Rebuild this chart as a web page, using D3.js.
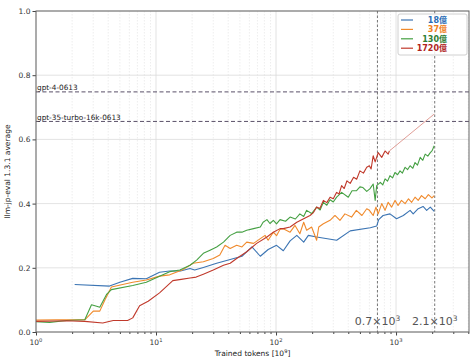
<!DOCTYPE html>
<html>
<head>
<meta charset="utf-8">
<script src="https://cdn.jsdelivr.net/npm/d3@7"></script>
<style>
  body { margin: 0; background: #fff; }
  svg { font-family: "DejaVu Sans", "Noto Sans CJK JP", sans-serif; }
</style>
</head>
<body>
<svg id="chart" width="474" height="361"></svg>
<script>
// trained tokens (x10^9) and llm-jp-eval average
const series18 = [[2.1,0.148],[4.1,0.143],[5.0,0.155],[6.4,0.167],[8.3,0.166],[10.7,0.186],[13,0.19],[16,0.19],[19.2,0.198],[21,0.193],[24.8,0.201],[32,0.214],[41.5,0.226],[52,0.236],[63,0.265],[74,0.236],[86,0.257],[101,0.27],[115,0.253],[131,0.284],[149,0.301],[170,0.28],[186,0.301],[218,0.296],[320,0.286],[415,0.315],[610,0.325],[690,0.33],[717,0.35],[780,0.363],[890,0.368],[1010,0.353],[1150,0.363],[1310,0.379],[1390,0.368],[1530,0.384],[1680,0.391],[1800,0.379],[1930,0.389],[2080,0.376]];
const series37 = [[1,0.037],[1.5,0.038],[2.55,0.038],[3.0,0.065],[3.4,0.065],[3.75,0.10],[4.25,0.14],[6.4,0.155],[8.3,0.162],[10.7,0.174],[13,0.178],[16.9,0.195],[20.4,0.214],[24.8,0.219],[30,0.229],[34,0.24],[37.6,0.27],[41.5,0.26],[47,0.27],[52,0.265],[57,0.28],[65,0.276],[74,0.291],[81,0.301],[86,0.286],[95,0.311],[101,0.30],[108,0.32],[115,0.322],[131,0.311],[144,0.332],[158,0.306],[170,0.342],[180,0.317],[198,0.327],[218,0.286],[227,0.327],[248,0.337],[282,0.348],[310,0.363],[341,0.348],[375,0.368],[426,0.358],[467,0.379],[520,0.363],[570,0.384],[600,0.379],[630,0.368],[645,0.363],[680,0.389],[710,0.368],[760,0.40],[810,0.379],[860,0.404],[920,0.389],[980,0.41],[1040,0.394],[1110,0.41],[1190,0.40],[1270,0.415],[1350,0.404],[1440,0.42],[1530,0.41],[1630,0.425],[1750,0.415],[1860,0.428],[1990,0.418],[2080,0.425]];
const series130 = [[1,0.032],[1.3,0.030],[1.8,0.036],[2.55,0.038],[2.9,0.085],[3.2,0.08],[3.4,0.077],[3.87,0.117],[4.25,0.132],[6.4,0.145],[8.3,0.155],[10.7,0.174],[13,0.188],[15.8,0.193],[19.2,0.208],[21.8,0.224],[24.8,0.245],[28.2,0.255],[32,0.265],[36.5,0.28],[41.5,0.301],[47,0.311],[52,0.311],[57,0.317],[65,0.322],[74,0.327],[78,0.342],[84,0.35],[89,0.338],[95,0.348],[101,0.337],[108,0.35],[120,0.345],[131,0.358],[145,0.352],[158,0.368],[170,0.36],[180,0.379],[198,0.369],[218,0.389],[233,0.38],[248,0.404],[265,0.395],[282,0.412],[300,0.405],[320,0.42],[352,0.435],[400,0.42],[430,0.44],[467,0.44],[500,0.452],[530,0.45],[570,0.438],[605,0.446],[645,0.461],[670,0.41],[690,0.456],[740,0.466],[775,0.458],[810,0.477],[850,0.47],[890,0.487],[935,0.48],[980,0.497],[1030,0.49],[1080,0.502],[1130,0.495],[1190,0.513],[1250,0.506],[1310,0.518],[1380,0.51],[1440,0.528],[1510,0.52],[1590,0.544],[1670,0.535],[1750,0.554],[1840,0.548],[1930,0.559],[2000,0.565],[2080,0.58]];
const series1720 = [[1,0.033],[1.8,0.035],[2.55,0.033],[3.6,0.028],[4.4,0.036],[5.8,0.036],[6.4,0.044],[7.3,0.082],[8.6,0.096],[10.7,0.122],[13.8,0.16],[16.2,0.164],[19.2,0.168],[21.6,0.171],[24.8,0.18],[30,0.193],[36.5,0.208],[41.5,0.214],[47,0.229],[57,0.25],[69,0.276],[84,0.296],[95,0.311],[108,0.322],[115,0.322],[131,0.327],[149,0.342],[170,0.353],[192,0.363],[205,0.372],[218,0.389],[232,0.385],[248,0.41],[265,0.403],[282,0.42],[300,0.415],[320,0.435],[335,0.43],[352,0.456],[370,0.447],[390,0.471],[415,0.463],[443,0.482],[470,0.476],[500,0.502],[535,0.495],[570,0.513],[600,0.518],[620,0.508],[645,0.549],[670,0.53],[710,0.559],[760,0.544],[810,0.564],[860,0.554],[880,0.564]];
const extrapolation1720 = [[880,0.564],[2080,0.679]];

const seriesNames = ['18億', '37億', '130億', '1720億'];
const lineColors = ['#3b74b3', '#f08a2c', '#45a043', '#c0392b'];
const textColors = ['#2a6cb6', '#f07f1e', '#2e7d32', '#b0241c'];

const refNames = ['gpt-4-0613', 'gpt-35-turbo-16k-0613'];
const refScores = [0.748, 0.656];

const markTokens = [700, 2100];
const markLabels = ['0.7×10', '2.1×10'];

const yTicks = [0, 0.2, 0.4, 0.6, 0.8, 1.0];
const xTicks = [1, 10, 100, 1000];

const margin = { top: 11, right: 5, bottom: 29, left: 36 };
const width = 474 - margin.left - margin.right;
const height = 361 - margin.top - margin.bottom;

const x = d3.scaleLog().domain([1, 4055]).range([0, width]);
const y = d3.scaleLinear().domain([0, 1]).range([height, 0]);

const svg = d3.select('#chart');
const g = svg.append('g').attr('transform', `translate(${margin.left},${margin.top})`);

// minor vertical grid
const minor = [];
for (let k = 0; k < 4; k++) {
  for (let m = 2; m <= 9; m++) {
    const v = m * Math.pow(10, k);
    if (v < 4055) minor.push(v);
  }
}
g.selectAll('.minor-grid')
  .data(minor)
  .enter()
  .append('line')
  .attr('x1', (d) => x(d)).attr('x2', (d) => x(d))
  .attr('y1', 0).attr('y2', height)
  .attr('stroke', '#e3e3e3')
  .attr('stroke-width', 0.6)
  .attr('stroke-dasharray', '1.5,1.5');

g.selectAll('.major-xgrid')
  .data(xTicks)
  .enter()
  .append('line')
  .attr('x1', (d) => x(d)).attr('x2', (d) => x(d))
  .attr('y1', 0).attr('y2', height)
  .attr('stroke', '#dcdcdc')
  .attr('stroke-width', 0.8);

g.selectAll('.major-ygrid')
  .data(yTicks)
  .enter()
  .append('line')
  .attr('x1', 0).attr('x2', width)
  .attr('y1', (d) => y(d)).attr('y2', (d) => y(d))
  .attr('stroke', '#dcdcdc')
  .attr('stroke-width', 0.8);

// reference model lines
refScores.forEach((s, i) => {
  g.append('line')
    .attr('x1', 0).attr('x2', width)
    .attr('y1', y(s)).attr('y2', y(s))
    .attr('stroke', '#5a5068')
    .attr('stroke-width', 1)
    .attr('stroke-dasharray', '4,2.5');
  g.append('text')
    .attr('x', 1).attr('y', y(s) - 1.5)
    .attr('font-size', 7.3)
    .attr('fill', '#222')
    .text(refNames[i]);
});

// vertical markers
markTokens.forEach((t) => {
  g.append('line')
    .attr('x1', x(t)).attr('x2', x(t))
    .attr('y1', 0).attr('y2', height)
    .attr('stroke', '#666')
    .attr('stroke-width', 0.9)
    .attr('stroke-dasharray', '2.5,2');
});

const line = d3.line().x((d) => x(d[0])).y((d) => y(d[1]));

[series18, series37, series130, series1720].forEach((s, i) => {
  g.append('path')
    .datum(s)
    .attr('fill', 'none')
    .attr('stroke', lineColors[i])
    .attr('stroke-width', 1.1)
    .attr('stroke-linejoin', 'round')
    .attr('d', line);
});

g.append('path')
  .datum(extrapolation1720)
  .attr('fill', 'none')
  .attr('stroke', '#c0392b')
  .attr('stroke-opacity', 0.7)
  .attr('stroke-width', 0.7)
  .attr('d', line);

markTokens.forEach((t, i) => {
  const tx = g.append('text')
    .attr('x', x(t)).attr('y', height - 7)
    .attr('text-anchor', 'middle')
    .attr('font-size', 11)
    .attr('fill', '#555');
  tx.append('tspan').text(markLabels[i]);
  tx.append('tspan').attr('font-size', 7.5).attr('dy', -4.5).text('3');
});

// axes
const yAxis = g.append('g')
  .call(d3.axisLeft(y).tickValues(yTicks).tickFormat(d3.format('.1f')).tickSize(3.5).tickPadding(2));
g.append('g')
  .attr('transform', `translate(0,${height})`)
  .call(d3.axisBottom(x).tickValues(xTicks).tickFormat('').tickSize(3.5));
g.append('g')
  .attr('transform', `translate(0,${height})`)
  .call(d3.axisBottom(x).tickValues(minor).tickFormat('').tickSize(2));
svg.selectAll('.domain').remove();
svg.selectAll('.tick line').attr('stroke', '#444');
yAxis.selectAll('text').attr('font-size', 7.5).attr('fill', '#333').attr('font-family', 'DejaVu Sans');

xTicks.forEach((t) => {
  const tx = g.append('text')
    .attr('x', x(t)).attr('y', height + 13)
    .attr('text-anchor', 'middle')
    .attr('font-size', 7.5)
    .attr('fill', '#333');
  tx.append('tspan').text('10');
  tx.append('tspan').attr('font-size', 5.2).attr('dy', -3.5).text(String(Math.round(Math.log10(t))));
});

g.append('rect')
  .attr('width', width).attr('height', height)
  .attr('fill', 'none')
  .attr('stroke', '#666')
  .attr('stroke-width', 1);

// labels
const xl = svg.append('text')
  .attr('x', margin.left + width / 2).attr('y', 356)
  .attr('text-anchor', 'middle')
  .attr('font-size', 7.5)
  .attr('fill', '#222');
xl.append('tspan').text('Trained tokens [10');
xl.append('tspan').attr('font-size', 5.2).attr('dy', -3).text('9');
xl.append('tspan').attr('dy', 3).text(']');

svg.append('text')
  .attr('transform', `translate(10,${margin.top + height / 2}) rotate(-90)`)
  .attr('text-anchor', 'middle')
  .attr('font-size', 7.5)
  .attr('fill', '#222')
  .text('llm-jp-eval 1.3.1 average');

// legend
const lg = svg.append('g').attr('transform', 'translate(398,14)');
lg.append('rect')
  .attr('width', 69).attr('height', 41)
  .attr('rx', 2)
  .attr('fill', '#fff').attr('fill-opacity', 0.85)
  .attr('stroke', '#d0d0d0');
seriesNames.forEach((n, i) => {
  const ly = 6 + i * 9.4;
  lg.append('line')
    .attr('x1', 3).attr('x2', 15)
    .attr('y1', ly).attr('y2', ly)
    .attr('stroke', lineColors[i])
    .attr('stroke-width', 1.2);
  lg.append('text')
    .attr('x', 49).attr('y', ly + 3)
    .attr('text-anchor', 'end')
    .attr('font-size', 8)
    .attr('font-weight', 'bold')
    .attr('fill', textColors[i])
    .text(n);
});
</script>
</body>
</html>
